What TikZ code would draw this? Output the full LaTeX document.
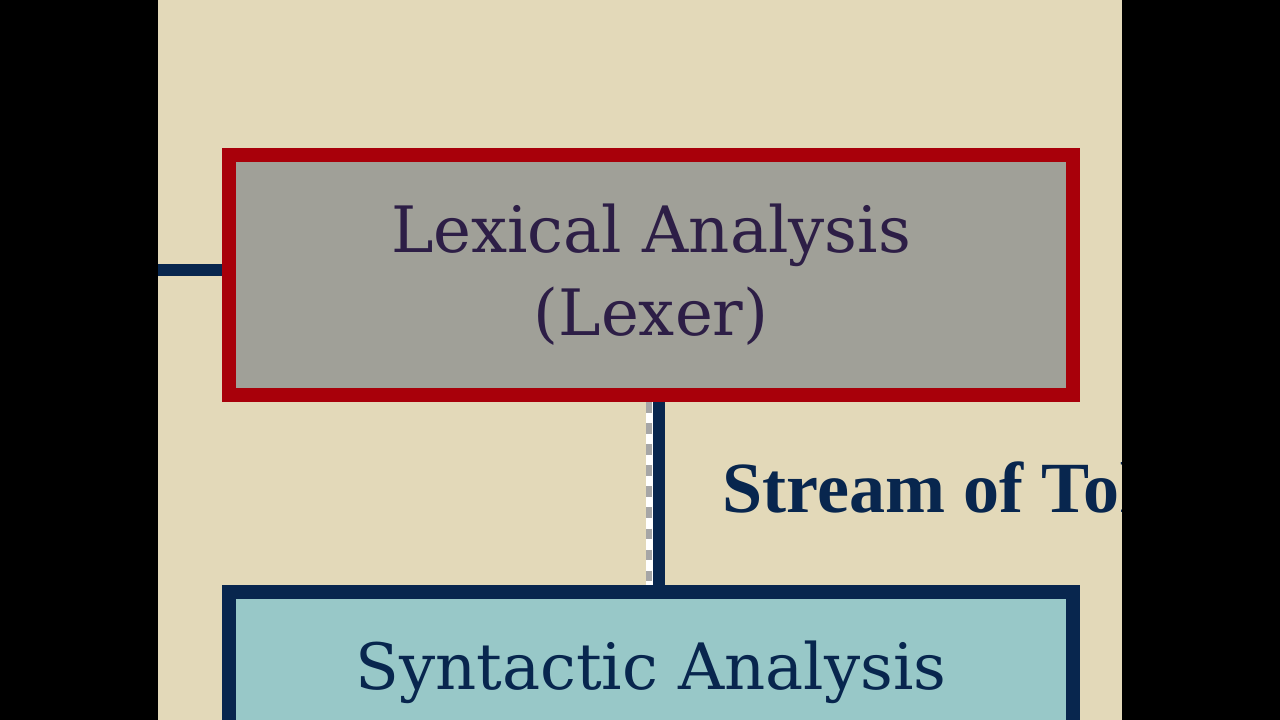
\documentclass[tikz,border=0pt]{standalone}
\usepackage{fontspec}
\setmainfont{DejaVu Serif}
\newfontfamily\tokenfont{Liberation Serif}
\definecolor{PaperColor}{RGB}{227,217,185}
\definecolor{LexerGray}{RGB}{160,160,152}
\definecolor{LexerRed}{RGB}{168,0,10}
\definecolor{NavyColor}{RGB}{8,38,78}
\definecolor{ParserTeal}{RGB}{152,200,200}
\definecolor{InkPurple}{RGB}{45,30,70}
\usetikzlibrary{positioning}
\tikzset{
  phasebox/.style={draw, line width=0.14cm, minimum width=8.44cm, minimum height=2.40cm, align=center, font=\fontsize{18.2}{23.6}\selectfont},
  lexerbox/.style={phasebox, fill=LexerGray, draw=LexerRed, text=InkPurple},
  parserbox/.style={phasebox, fill=ParserTeal, draw=NavyColor, text=NavyColor, text height=0.5cm, text depth=0.94cm},
  flowline/.style={draw=NavyColor, line width=0.12cm}
}
\begin{document}
\begin{tikzpicture}
          \useasboundingbox (0,0) rectangle (12.8,7.2);
          \clip (0,0) rectangle (12.8,7.2);
          \fill[PaperColor] (0,0) rectangle (12.8,7.2);
          % phases
          \node[lexerbox] (lexer) at (6.51,4.45) {Lexical Analysis\\(Lexer)};
          \node[parserbox, below=1.83cm of lexer] (parser) {Syntactic Analysis};
          % connectors
          \coordinate (source) at (1.58,4.50);
          \draw[flowline, line width=0.12cm] (source) -- (source -| lexer.west);
          \draw[white, line width=0.07cm] ([xshift=-0.02cm]lexer.south) -- ([xshift=-0.02cm]parser.north);
          \draw[gray!70, dashed, line width=0.06cm] ([xshift=-0.02cm]lexer.south) -- ([xshift=-0.02cm]parser.north);
          \draw[flowline] ([xshift=0.08cm]lexer.south) -- ([xshift=0.08cm]parser.north);
          \node[anchor=base west, inner sep=0pt, text=NavyColor, font=\tokenfont\fontsize{20.5}{24}\selectfont\bfseries] (tokens) at (7.22,2.07) {Stream of Tokens};
          % side bars
          \fill[black] (0,0) rectangle (1.58,7.2);
          \fill[black] (11.22,0) rectangle (12.8,7.2);
        \end{tikzpicture}
\end{document}
